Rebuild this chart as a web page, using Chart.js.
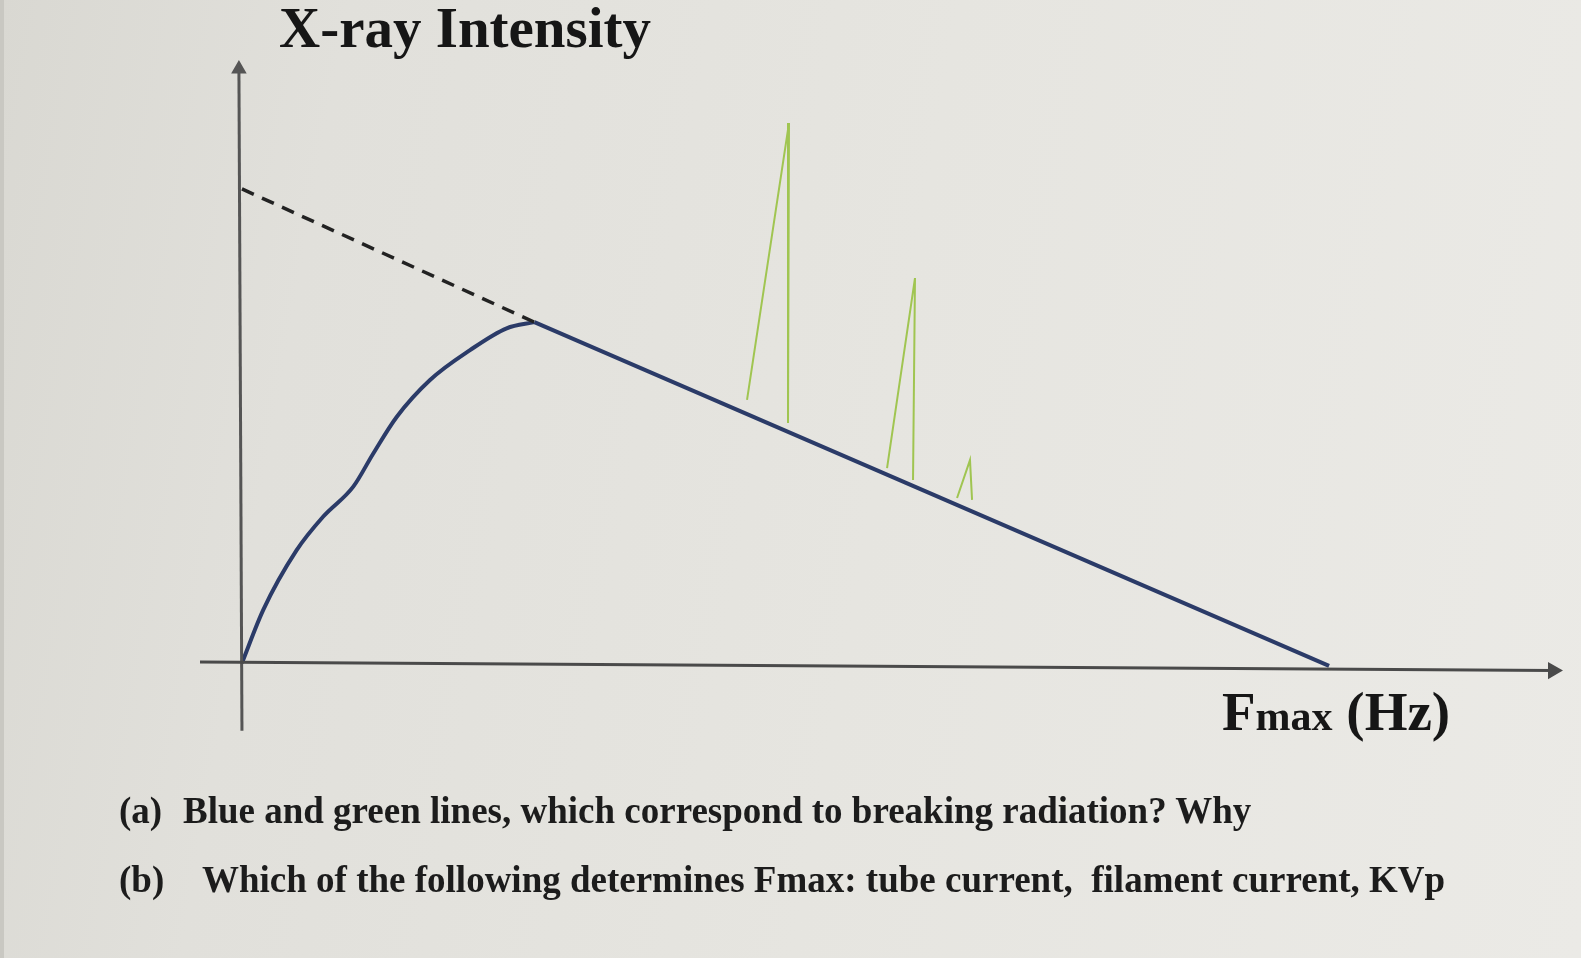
<!DOCTYPE html>
<html>
<head>
<meta charset="utf-8">
<script src="https://cdn.jsdelivr.net/npm/chart.js@4.4.1/dist/chart.umd.min.js"></script>
<style>
  html, body { margin: 0; padding: 0; }
  body {
    width: 1581px; height: 958px; overflow: hidden; position: relative;
    background: linear-gradient(100deg, #d9d8d2 0%, #e1e0db 20%, #e6e5e0 55%, #ebeae6 100%);
    font-family: "Liberation Serif", "DejaVu Serif", serif;
    color: #161616;
  }
  #edge { position: absolute; left: 0; top: 0; width: 4px; height: 958px; background: #c9c8c2; }
  #wrap { position: absolute; left: 0; top: 0; width: 1581px; height: 958px; }
  .txt { position: absolute; font-weight: bold; white-space: nowrap; }
  #ytitle { left: 279px; top: -5px; font-size: 57px; }
  #xtitle { left: 1222px; top: 680px; font-size: 55px; }
  #xtitle small { font-size: 42px; }
  .q { font-size: 37px; letter-spacing: 0; color: #1c1c1c; }
  .q span { position: absolute; }
</style>
</head>
<body>
<div id="edge"></div>
<div id="wrap"><canvas id="c" width="1581" height="958"></canvas></div>
<div class="txt" id="ytitle">X-ray Intensity</div>
<div class="txt" id="xtitle">F<small>max</small> (Hz)</div>
<div class="txt q" style="left:119px; top:789px;"><span style="left:0">(a)</span><span style="left:64px">Blue and green lines, which correspond to breaking radiation? Why</span></div>
<div class="txt q" style="left:119px; top:858px;"><span style="left:0">(b)</span><span style="left:83px">Which of the following determines Fmax: tube current,&nbsp; filament current, KVp</span></div>
<script>
// values (frequency units 0..100 = origin..Fmax, intensity 100 = dashed start)
const riseX = [0, 1.96, 5.03, 7.48, 10.24, 12.08, 14.23, 17.3, 20.98, 24.35, 26.9];
const riseY = [0, 11.2, 23.8, 30.9, 37.2, 44.2, 51.9, 59.7, 66.0, 70.6, 71.9];
const fallX = [26.9, 100];
const fallY = [71.9, -0.6];
const dashX = [0, 26.9];
const dashY = [100, 71.9];
const spike1X = [46.46, 50.32, 50.23];
const spike1Y = [55.5, 113.9, 50.6];
const spike2X = [59.34, 61.91, 61.73];
const spike2Y = [41.1, 81.2, 38.6];
const spike3X = [65.78, 66.97, 67.16];
const spike3Y = [34.8, 42.8, 34.4];
const xAxisX = [-3.86, 120.6];
const xAxisY = [0.2, -1.6];
const yAxisX = [0, -0.28];
const yAxisY = [-14.3, 125.3];

const pts = (xs, ys) => xs.map((x, i) => ({ x: x, y: ys[i] }));

const navy = '#2b3b68';
const green = '#a0c551';

function line(data, color, width, extra) {
    return Object.assign({
        data: data,
        borderColor: color,
        backgroundColor: color,
        borderWidth: width,
        pointRadius: 0,
        tension: 0,
        clip: false,
        fill: false
    }, extra || {});
}

new Chart(document.getElementById('c').getContext('2d'), {
    type: 'line',
    data: {
        datasets: [
            line(pts(xAxisX, xAxisY), '#4a4a4a', 3, { pointRadius: [0, 7], pointStyle: 'triangle', rotation: 90 }),
            line(pts(yAxisX, yAxisY), '#555555', 3, { pointRadius: [0, 6], pointStyle: 'triangle' }),
            line(pts(dashX, dashY), '#222222', 3.5, { borderDash: [13, 9] }),
            line(pts(spike1X, spike1Y), green, 2),
            line(pts(spike2X, spike2Y), green, 2),
            line(pts(spike3X, spike3Y), green, 2),
            line(pts(riseX, riseY), navy, 4, { cubicInterpolationMode: 'monotone' }),
            line(pts(fallX, fallY), navy, 4)
        ]
    },
    options: {
        responsive: false,
        animation: false,
        layout: { padding: { left: 200, top: 69, right: 28, bottom: 227 } },
        plugins: { legend: { display: false }, tooltip: { enabled: false } },
        scales: {
            x: { type: 'linear', min: -3.86, max: 120.6, display: false },
            y: { type: 'linear', min: -14.35, max: 125.3, display: false }
        }
    }
});
</script>
</body>
</html>
